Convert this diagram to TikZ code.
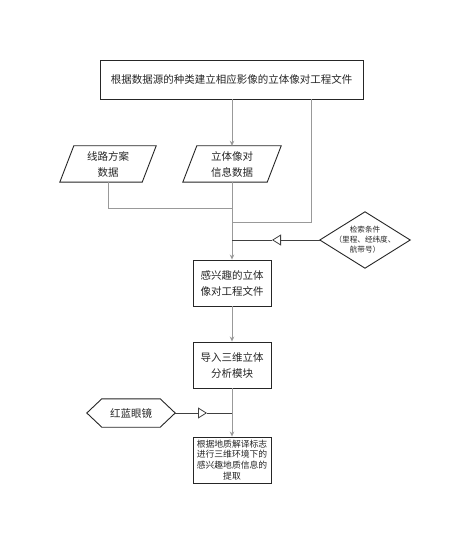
\documentclass[tikz,border=0pt]{standalone}
\usepackage{fontspec}
\setmainfont{Liberation Serif}
\newfontfamily\cjk{Noto Sans CJK SC}
\usetikzlibrary{arrows.meta}
\begin{document}
\begin{tikzpicture}[x=1pt,y=-1pt,
  box/.style={draw=black!85, line width=0.9pt, minimum width=78pt, minimum height=46pt, inner sep=1pt, align=center, text=black!85, font=\cjk\fontsize{10.5}{16}\selectfont},
  shapetext/.style={inner sep=0pt, align=center, text=black!85, font=\cjk\fontsize{10.5}{16}\selectfont},
  outline/.style={draw=black!85, line width=0.9pt},
  conn/.style={draw=black!40, line width=0.8pt},
  darkconn/.style={draw=black!75, line width=0.8pt},
  arrowconn/.style={conn, -{Stealth[length=5pt,width=4.5pt]}},
  opentri/.style={darkconn, -{Triangle[open,length=9pt,width=11pt]}}]
\useasboundingbox (0,0) rectangle (474,545);
\fill[white] (0,0) rectangle (474,545);

% nodes
\node[box, minimum width=263pt, minimum height=39pt] (top) at (231.5,79.5) {根据数据源的种类建立相应影像的立体像对工程文件};

\node[shapetext, minimum width=82pt, minimum height=36pt] (para1) at (108,164) {线路方案\\数据};
\draw[outline] ([xshift=7pt]para1.north west) -- ([xshift=7pt]para1.north east) -- ([xshift=-7pt]para1.south east) -- ([xshift=-7pt]para1.south west) -- cycle;

\node[shapetext, minimum width=84pt, minimum height=36pt] (para2) at (232,164) {立体像对\\信息数据};
\draw[outline] ([xshift=7pt]para2.north west) -- ([xshift=7pt]para2.north east) -- ([xshift=-7pt]para2.south east) -- ([xshift=-7pt]para2.south west) -- cycle;

\node[shapetext, minimum width=90pt, minimum height=56pt, font=\cjk\fontsize{7.6}{10}\selectfont] (dia) at (365,240) {检索条件\\（里程、经纬度、\\航带号）};
\draw[outline] (dia.west) -- (dia.north) -- (dia.east) -- (dia.south) -- cycle;

\node[box] (b1) at (232,283) {感兴趣的立体\\像对工程文件};
\node[box] (b2) at (232,365) {导入三维立体\\分析模块};

\node[shapetext, minimum width=88pt, minimum height=28pt] (hex) at (131,413) {红蓝眼镜};
\draw[outline] (hex.west) -- ([xshift=15pt]hex.north west) -- ([xshift=-15pt]hex.north east) -- (hex.east) -- ([xshift=-15pt]hex.south east) -- ([xshift=15pt]hex.south west) -- cycle;

\node[box, font=\cjk\fontsize{8.8}{10.8}\selectfont] (b3) at (232,460) {根据地质解译标志\\进行三维环境下的\\感兴趣地质信息的\\提取};

% helper coordinates
\coordinate (topR) at (311,99);
\coordinate (cornR) at (311,222);
\coordinate (junR) at (232,222);
\coordinate (corn1) at (108,208);
\coordinate (jun1) at (232,208);
\coordinate (tri1) at (272,240);
\coordinate (jun2) at (232,240);
\coordinate (tri2) at (207,413);
\coordinate (jun3) at (232,413);

% connectors
\draw[arrowconn] (top.south -| para2) -- (para2.north);
\draw[conn] (topR) -- (cornR) -- (junR);
\draw[conn] (para1.south) -- (corn1) -- (jun1);
\draw[arrowconn] (para2.south) -- (b1.north);
\draw[opentri] (dia.west) -- (tri1);
\draw[darkconn] (tri1) -- (jun2);
\draw[arrowconn] (b1.south) -- (b2.north);
\draw[arrowconn] (b2.south) -- (b3.north);
\draw[opentri] (hex.east) -- (tri2);
\draw[darkconn] (tri2) -- (jun3);
\end{tikzpicture}
\end{document}
